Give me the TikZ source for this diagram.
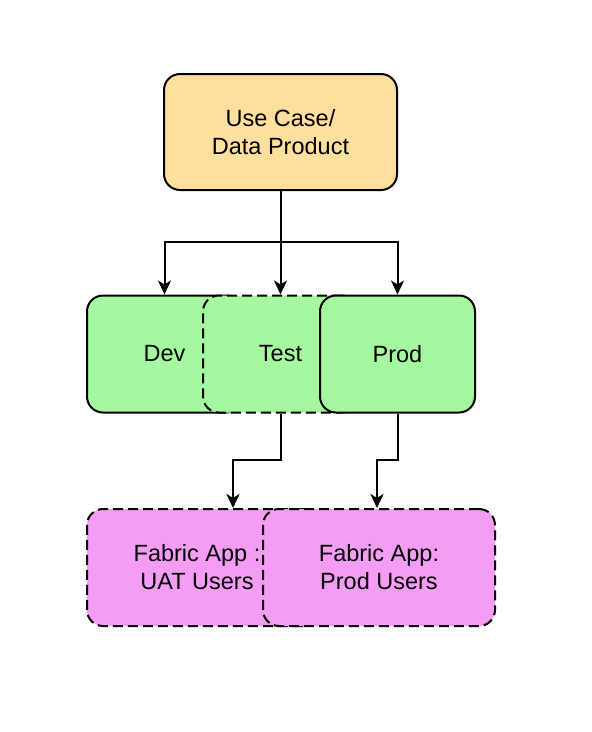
\documentclass[tikz,border=0pt]{standalone}
\usepackage{fontspec}
\setmainfont{Liberation Sans}
\usetikzlibrary{arrows.meta}
\definecolor{ucfill}{HTML}{FFDF9E}
\definecolor{envfill}{HTML}{A6F8A0}
\definecolor{appfill}{HTML}{F59CF5}
\tikzset{
  box/.style={draw=black, line width=2pt, rounded corners=16pt, align=center,
    font=\fontsize{23.5}{28}\selectfont, inner sep=0pt},
  dashbox/.style={box, dash pattern=on 10pt off 5pt},
  conn/.style={draw=black, line width=2pt, -{Stealth[length=14pt,width=13pt,inset=4pt]}},
  plain/.style={draw=black, line width=2pt}
}
\begin{document}
\begin{tikzpicture}[x=1pt,y=-1pt]
\useasboundingbox (0,0) rectangle (592,732);
\node[box, fill=ucfill, minimum width=233pt, minimum height=116pt] (uc) at (280.5,132) {Use Case/\\Data Product};
\node[box, fill=envfill, minimum width=155pt, minimum height=117pt] (dev) at (164.5,354) {Dev};
\node[dashbox, fill=envfill, minimum width=155pt, minimum height=117pt] (test) at (280.5,354) {Test};
\node[box, fill=envfill, minimum width=155pt, minimum height=117pt] (prod) at (397.5,354) {Prod};
\node[dashbox, fill=appfill, minimum width=232pt, minimum height=117pt] (uat) at (203,567.5) {\hspace*{-12pt}Fabric App :\\\hspace*{-12pt}UAT Users};
\node[dashbox, fill=appfill, minimum width=232pt, minimum height=117pt] (pu) at (379,567.5) {Fabric App:\\Prod Users};
\coordinate (j) at (280.5,242);
\coordinate (a1) at (233,460);
\coordinate (a2) at (377,460);
\draw[plain] (uc.south) -- (j);
\draw[conn] (j) -| (dev.north);
\draw[conn] (j) -| (prod.north);
\draw[conn] (j) -- (test.north);
\draw[conn] (test.south) |- (a1) -- (a1 |- uat.north);
\draw[conn] (prod.south) |- (a2) -- (a2 |- pu.north);
\end{tikzpicture}
\end{document}
